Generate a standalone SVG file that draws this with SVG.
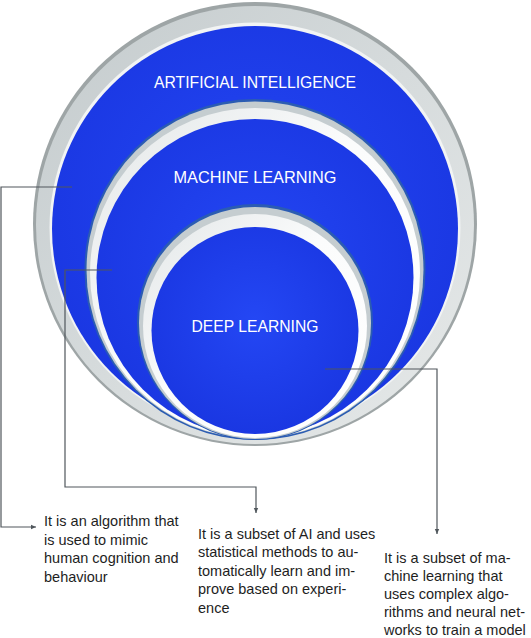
<svg xmlns="http://www.w3.org/2000/svg" width="531" height="638" viewBox="0 0 531 638">
  <defs>
    <radialGradient id="blue" cx="50%" cy="45%" r="55%">
      <stop offset="0" stop-color="#2447f4"/>
      <stop offset="1" stop-color="#1a37e2"/>
    </radialGradient>
    <linearGradient id="grayRing" x1="0" y1="0" x2="1" y2="1">
      <stop offset="0" stop-color="#c4cbcd"/>
      <stop offset="0.5" stop-color="#d6dbdc"/>
      <stop offset="1" stop-color="#e6e9e9"/>
    </linearGradient>
    <linearGradient id="whiteRing" x1="0" y1="0" x2="1" y2="1">
      <stop offset="0" stop-color="#e2e6e7"/>
      <stop offset="0.45" stop-color="#fbfcfc"/>
      <stop offset="1" stop-color="#ffffff"/>
    </linearGradient>
    <marker id="arr" markerWidth="6" markerHeight="6" refX="5" refY="3" orient="auto" markerUnits="userSpaceOnUse">
      <path d="M0,0.8 L5,3 L0,5.2z" fill="#50575c"/>
    </marker>
  </defs>
  <style>
    .title { font-family: "Liberation Sans", Arial, sans-serif; font-size: 17px; fill: #ffffff; text-anchor: middle; }
    .note { font-family: "Liberation Sans", Arial, sans-serif; font-size: 14.5px; fill: #1e1e1e; }
    .edge { fill: none; stroke: #50575c; stroke-width: 1.2; }
    .rimDark { fill: #9ea5a6; }
    .rimMid { fill: url(#grayRing); }
    .rimLight { fill: #f2f4f4; }
    .ringDark { fill: #2b5cb2; }
    .ringGray { fill: #c5cdd0; }
    .ringWhite { fill: url(#whiteRing); }
    .core { fill: url(#blue); }
  </style>

  <g id="ai">
    <circle class="rimDark" cx="255" cy="224" r="222"/>
    <circle class="rimMid" cx="255" cy="225" r="219"/>
    <circle class="rimLight" cx="255" cy="228" r="205.5"/>
    <circle class="core" cx="255" cy="229" r="203"/>
    <text class="title" x="255" y="88" textLength="202" lengthAdjust="spacingAndGlyphs">ARTIFICIAL INTELLIGENCE</text>
  </g>

  <g id="ml">
    <circle class="ringDark" cx="255" cy="269.5" r="170.5"/>
    <circle class="ringGray" cx="255" cy="270" r="168.5"/>
    <circle class="ringWhite" cx="255" cy="273" r="165"/>
    <circle class="core" cx="255" cy="277.5" r="158.5"/>
    <text class="title" x="255" y="183" textLength="163" lengthAdjust="spacingAndGlyphs">MACHINE LEARNING</text>
  </g>

  <g id="dl">
    <circle class="ringDark" cx="255" cy="322" r="118"/>
    <circle class="ringGray" cx="255" cy="323" r="116"/>
    <circle class="ringWhite" cx="255" cy="326" r="112"/>
    <circle class="core" cx="255" cy="330.5" r="103.5"/>
    <text class="title" x="255" y="331.5" textLength="127" lengthAdjust="spacingAndGlyphs">DEEP LEARNING</text>
  </g>

  <g id="connectors">
    <polyline class="edge" points="72,187 1,187 1,527 36,527" marker-end="url(#arr)"/>
    <polyline class="edge" points="112,270 65,270 65,487 256,487 256,513" marker-end="url(#arr)"/>
    <polyline class="edge" points="325,369 437,369 437,534" marker-end="url(#arr)"/>
  </g>

  <g id="note-ai">
    <text class="note" x="44" y="526">It is an algorithm that</text>
    <text class="note" x="44" y="544.5">is used to mimic</text>
    <text class="note" x="44" y="563">human cognition and</text>
    <text class="note" x="44" y="581.5">behaviour</text>
  </g>

  <g id="note-ml">
    <text class="note" x="198" y="538.5">It is a subset of AI and uses</text>
    <text class="note" x="198" y="557">statistical methods to au-</text>
    <text class="note" x="198" y="575.5">tomatically learn and im-</text>
    <text class="note" x="198" y="594">prove based on experi-</text>
    <text class="note" x="198" y="612.5">ence</text>
  </g>

  <g id="note-dl">
    <text class="note" x="384" y="562.5">It is a subset of ma-</text>
    <text class="note" x="384" y="580.5">chine learning that</text>
    <text class="note" x="384" y="598.5">uses complex algo-</text>
    <text class="note" x="384" y="616.5">rithms and neural net-</text>
    <text class="note" x="384" y="634.5">works to train a model</text>
  </g>
</svg>
